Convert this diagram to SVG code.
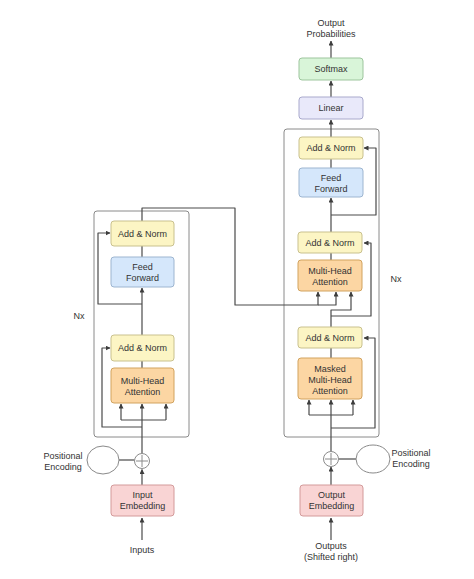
<svg xmlns="http://www.w3.org/2000/svg" width="474" height="579" viewBox="0 0 474 579">
<defs>
<marker id="ah" viewBox="0 0 10 10" refX="9" refY="5" markerWidth="5" markerHeight="5" orient="auto" markerUnits="userSpaceOnUse">
<path d="M0,0 L10,5 L0,10 z" fill="#3d3d3d"/>
</marker>
<style>
text{font-family:"Liberation Sans",Arial,sans-serif;font-size:9px;fill:#333;text-anchor:middle}
.frame{fill:none;stroke:#8a8a8a;stroke-width:1}
.an{fill:#fcf5c4;stroke:#c9c18e;stroke-width:1}
.ff{fill:#d5e7fb;stroke:#9db5d0;stroke-width:1}
.mha{fill:#fcd6a3;stroke:#d2a35e;stroke-width:1}
.emb{fill:#f9d4d4;stroke:#d39a9a;stroke-width:1}
.sm{fill:#d9f5d9;stroke:#9dc59d;stroke-width:1}
.lin{fill:#e9e9fa;stroke:#a9a9cc;stroke-width:1}
.pe{fill:#fff;stroke:#8a8a8a;stroke-width:1}
.c{fill:none;stroke:#4a4a4a;stroke-width:1.2;stroke-linejoin:round}
.a{marker-end:url(#ah)}
.plus{fill:#fff;stroke:#8a8a8a;stroke-width:1}
.pl{stroke:#8a8a8a;stroke-width:1}
</style>
</defs>
<rect width="474" height="579" fill="#fff"/>

<g id="encoder-frame"><rect class="frame" x="94" y="211" width="95" height="226" rx="3"/></g>
<g id="decoder-frame"><rect class="frame" x="284" y="129" width="95" height="308" rx="3"/></g>

<g id="connectors">
<!-- encoder -->
<path class="c a" d="M142,540 V518"/>
<path class="c a" d="M142,485 V469.5"/>
<path class="c" d="M119,460 H134.5"/>
<path class="c a" d="M142,453.5 V404"/>
<path class="c" d="M121,420 H166"/>
<path class="c a" d="M121,420 V404"/>
<path class="c a" d="M166,420 V404"/>
<path class="c a" d="M142,427 H102 V348 H110"/>
<path class="c" d="M142,368 V361"/>
<path class="c a" d="M142,335 V288"/>
<path class="c a" d="M142,304 H98 V233 H110"/>
<path class="c" d="M142,257 V246"/>
<path class="c a" d="M142,221 V208 H235 V305 H318 V292"/>
<path class="c a" d="M318,305 H336 V292"/>
<!-- decoder -->
<path class="c a" d="M331,540 V518"/>
<path class="c a" d="M331,485 V467"/>
<path class="c" d="M356,459 H338.5"/>
<path class="c a" d="M331,451.5 V400"/>
<path class="c" d="M309,415 H353"/>
<path class="c a" d="M309,415 V400"/>
<path class="c a" d="M353,415 V400"/>
<path class="c a" d="M331,428 H375 V338 H364"/>
<path class="c" d="M331,358 V348"/>
<path class="c a" d="M331,327 V310 H351 V292"/>
<path class="c a" d="M331,316 H371 V243 H364"/>
<path class="c" d="M331,260 V253"/>
<path class="c a" d="M331,232 V198"/>
<path class="c a" d="M331,215 H376 V148 H364"/>
<path class="c" d="M331,168 V159"/>
<path class="c a" d="M331,137 V120"/>
<path class="c a" d="M331,97 V81"/>
<path class="c a" d="M331,58 V41"/>
</g>

<!-- encoder nodes -->
<g id="enc-addnorm2"><rect class="an" x="111" y="221" width="63" height="25" rx="3"/><text x="142.5" y="237">Add &amp; Norm</text></g>
<g id="enc-ff"><rect class="ff" x="111" y="257" width="63" height="30" rx="3"/><text x="142.5" y="270">Feed</text><text x="142.5" y="281">Forward</text></g>
<g id="enc-addnorm1"><rect class="an" x="111" y="335" width="63" height="26" rx="3"/><text x="142.5" y="351">Add &amp; Norm</text></g>
<g id="enc-mha"><rect class="mha" x="111" y="368" width="63" height="35" rx="3"/><text x="142.5" y="384">Multi-Head</text><text x="142.5" y="395">Attention</text></g>
<g id="input-embedding"><rect class="emb" x="111" y="485" width="63" height="31" rx="3"/><text x="142.5" y="498">Input</text><text x="142.5" y="509">Embedding</text></g>
<g id="enc-plus"><circle class="plus" cx="142" cy="461" r="7.5"/><path class="pl" d="M136,461 H148 M142,455 V467"/></g>
<g id="enc-pe"><ellipse class="pe" cx="103" cy="460" rx="16" ry="14"/><text x="63" y="459">Positional</text><text x="63" y="470">Encoding</text></g>
<g id="inputs"><text x="142" y="553">Inputs</text></g>
<g id="enc-nx"><text x="79" y="319">Nx</text></g>

<!-- decoder nodes -->
<g id="dec-addnorm3"><rect class="an" x="299" y="137" width="64" height="22" rx="3"/><text x="331" y="151">Add &amp; Norm</text></g>
<g id="dec-ff"><rect class="ff" x="299" y="168" width="64" height="29" rx="3"/><text x="331" y="181">Feed</text><text x="331" y="192">Forward</text></g>
<g id="dec-addnorm2"><rect class="an" x="298" y="232" width="64" height="21" rx="3"/><text x="330" y="246">Add &amp; Norm</text></g>
<g id="dec-mha"><rect class="mha" x="298" y="260" width="64" height="31" rx="3"/><text x="330" y="274">Multi-Head</text><text x="330" y="285">Attention</text></g>
<g id="dec-addnorm1"><rect class="an" x="298" y="327" width="64" height="21" rx="3"/><text x="330" y="341">Add &amp; Norm</text></g>
<g id="dec-masked"><rect class="mha" x="298" y="358" width="64" height="41" rx="3"/><text x="330" y="372">Masked</text><text x="330" y="383">Multi-Head</text><text x="330" y="394">Attention</text></g>
<g id="output-embedding"><rect class="emb" x="300" y="485" width="63" height="31" rx="3"/><text x="331.5" y="498">Output</text><text x="331.5" y="509">Embedding</text></g>
<g id="dec-plus"><circle class="plus" cx="331" cy="459" r="7.5"/><path class="pl" d="M325,459 H337 M331,453 V465"/></g>
<g id="dec-pe"><ellipse class="pe" cx="373" cy="459" rx="17" ry="14"/><text x="411" y="456">Positional</text><text x="411" y="467">Encoding</text></g>
<g id="outputs"><text x="331" y="549">Outputs</text><text x="331" y="560">(Shifted right)</text></g>
<g id="dec-nx"><text x="396" y="282">Nx</text></g>
<g id="linear"><rect class="lin" x="299" y="97" width="64" height="22" rx="3"/><text x="331" y="111">Linear</text></g>
<g id="softmax"><rect class="sm" x="299" y="58" width="64" height="22" rx="3"/><text x="331" y="72">Softmax</text></g>
<g id="output-probs"><text x="331" y="26">Output</text><text x="331" y="37">Probabilities</text></g>
</svg>
